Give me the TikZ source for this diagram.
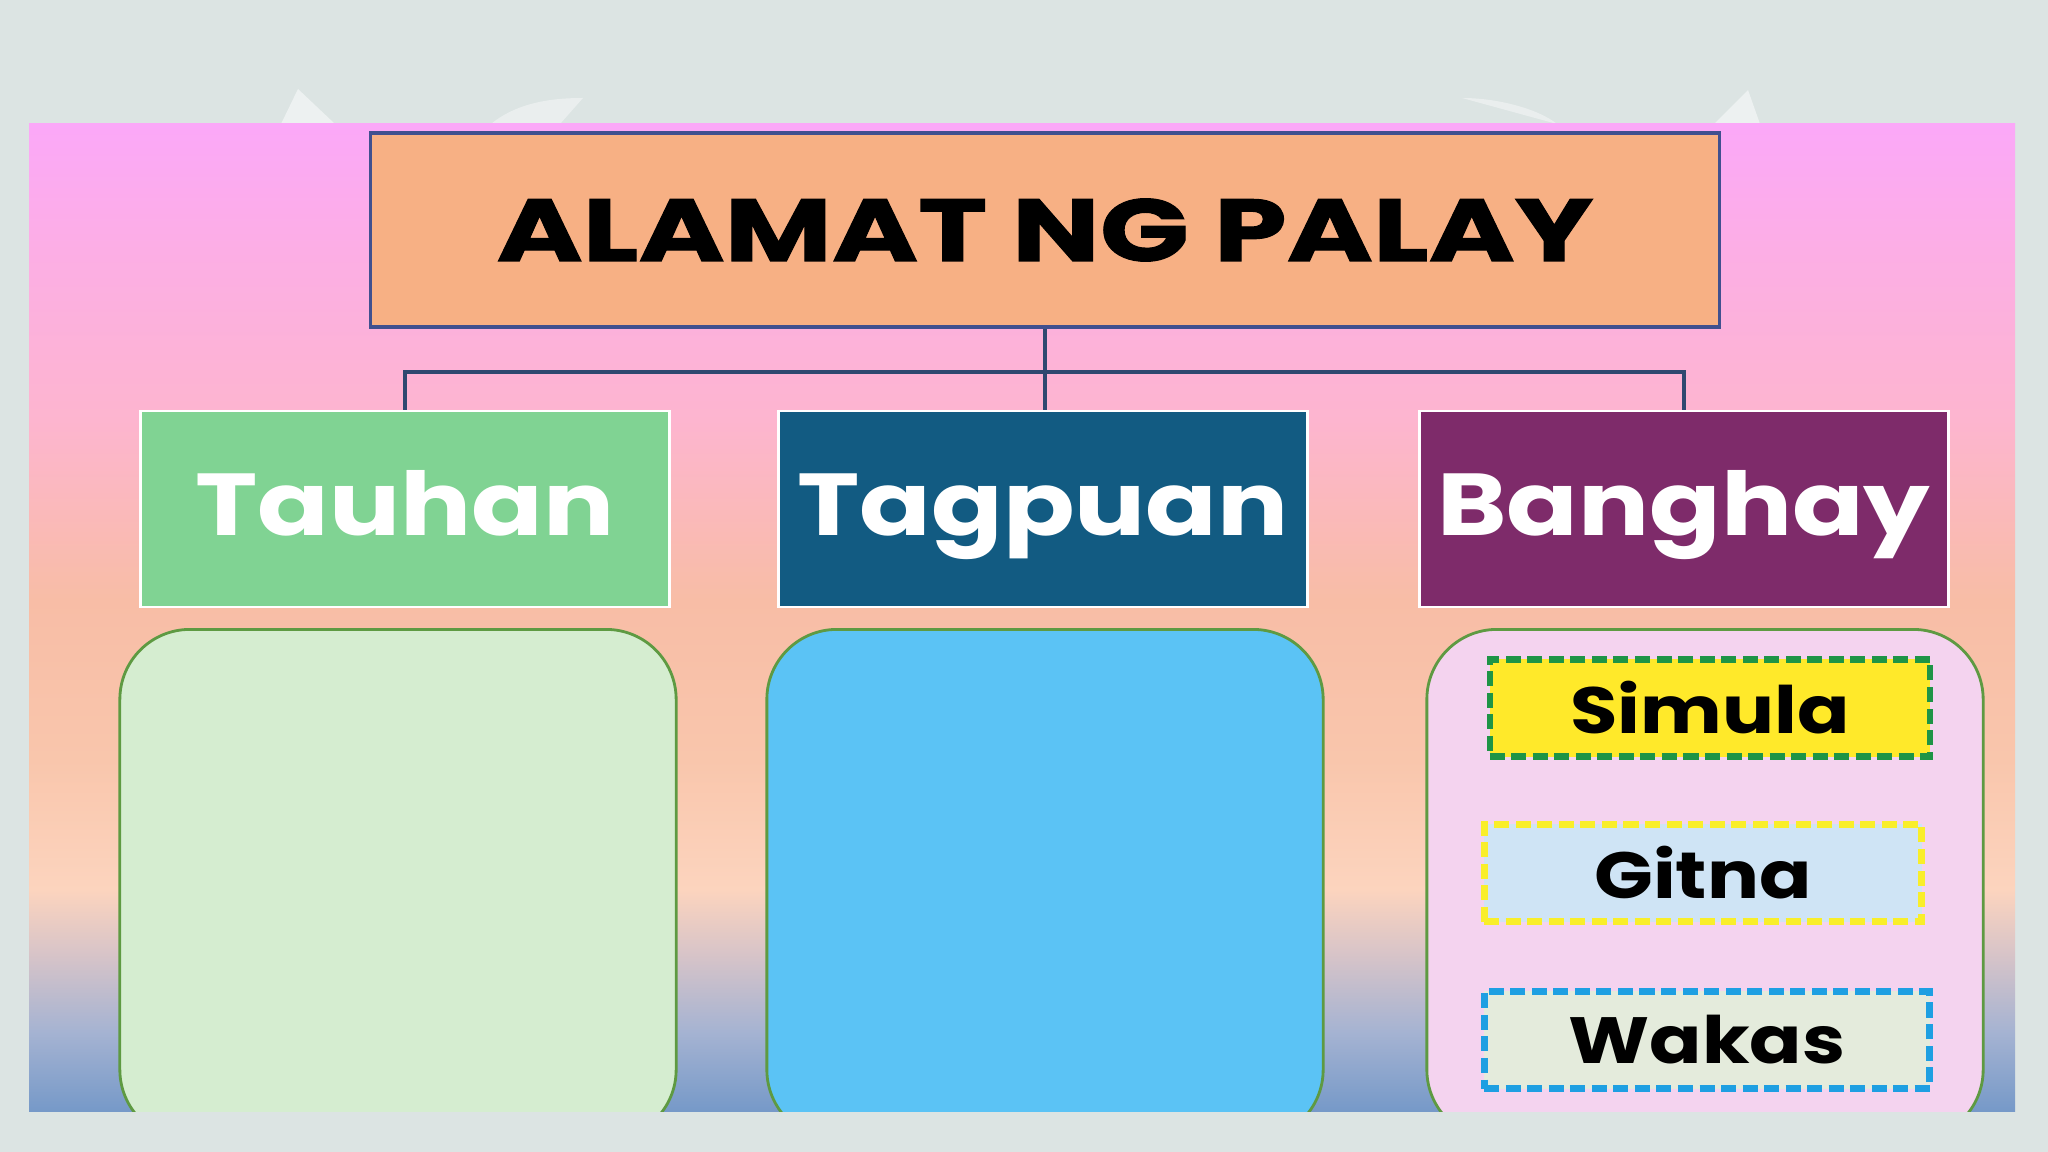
\documentclass[tikz,border=0pt]{standalone}
\usepackage{fontspec}
\setmainfont{Poppins}
\newfontfamily\titlefont{Poppins}[FakeStretch=1.33,FakeBold=1.2]
\newfontfamily\catfont{Poppins}[FakeStretch=1.2]
\newfontfamily\partfont{Poppins}[FakeStretch=1.18]
\usetikzlibrary{positioning}
\definecolor{bggrey}{HTML}{DCE4E3}
\definecolor{titlefill}{HTML}{F7B084}
\definecolor{titleline}{HTML}{40508F}
\definecolor{connline}{HTML}{2F4870}
\definecolor{tauhanfill}{HTML}{80D393}
\definecolor{tagpuanfill}{HTML}{125B82}
\definecolor{banghayfill}{HTML}{7E2B6A}
\definecolor{boxline}{HTML}{5E9A42}
\definecolor{greenbox}{HTML}{D5EDD0}
\definecolor{bluebox}{HTML}{5BC3F5}
\definecolor{pinkbox}{HTML}{F4D3EF}
\definecolor{simulafill}{HTML}{FFE92A}
\definecolor{simulaline}{HTML}{1E9446}
\definecolor{gitnafill}{HTML}{CFE4F5}
\definecolor{gitnaline}{HTML}{F9EE2A}
\definecolor{wakasfill}{HTML}{E4EBDC}
\definecolor{wakasline}{HTML}{1E9FE2}
\definecolor{panela}{HTML}{7699C8}
\definecolor{panelb}{HTML}{A5B3D2}
\definecolor{panelc}{HTML}{D8C4C8}
\definecolor{paneld}{HTML}{FCD4BE}
\definecolor{panele}{HTML}{F9C6AC}
\definecolor{panelf}{HTML}{F8BDA6}
\definecolor{panelg}{HTML}{FDB5CF}
\definecolor{panelh}{HTML}{FCAEE5}
\definecolor{paneli}{HTML}{FBA8F8}
\pgfdeclareverticalshading{panelshade}{100bp}{%
  color(0bp)=(panela); color(25bp)=(panela);
  color(29bp)=(panelb); color(33bp)=(panelc);
  color(36.2bp)=(paneld); color(42.8bp)=(panele);
  color(50.9bp)=(panelf); color(60bp)=(panelg);
  color(68.6bp)=(panelh); color(75bp)=(paneli);
  color(100bp)=(paneli)}

\begin{document}
\begin{tikzpicture}[x=0.01cm,y=-0.01cm,
  titlebox/.style={draw=titleline,fill=titlefill,line width=0.9pt,minimum width=13.49cm,minimum height=1.94cm,inner sep=0pt,font=\titlefont\bfseries\fontsize{25}{28}\selectfont},
  catbox/.style={draw=white,line width=0.8pt,minimum width=5.28cm,minimum height=1.96cm,inner sep=0pt,text height=0.7cm,text depth=0.18cm,text=white,font=\catfont\bfseries\fontsize{25}{28}\selectfont},
  roundbox/.style={draw=boxline,line width=0.8pt,rounded corners=0.7cm,minimum width=5.56cm,minimum height=5.1cm,inner sep=0pt},
  partbox/.style={line width=1.8pt,dash pattern=on 0.15cm off 0.065cm,minimum height=0.97cm,inner sep=0pt,font=\partfont\bfseries\fontsize{18.6}{22}\selectfont},
  conn/.style={draw=connline,line width=0.9pt}]
\useasboundingbox (0,0) rectangle (2048,1152);
\fill[bggrey] (0,0) rectangle (2048,1152);
\fill[white,opacity=.5] (281,124) -- (298,89) -- (335,124) -- cycle;
\fill[white,opacity=.4] (491,124) .. controls (520,100) and (560,98) .. (583,98) -- (560,124) -- cycle;
\fill[white,opacity=.4] (1462,98) .. controls (1500,98) and (1540,110) .. (1557,124) -- cycle;
\fill[white,opacity=.5] (1714,124) -- (1748,90) -- (1760,124) -- cycle;
\shade[shading=panelshade] (29,124) rectangle (2015,1111);

\node[titlebox] (title) at (1045,230) {ALAMAT NG PALAY};

\node[catbox,fill=tauhanfill] (tauhan) at (405,509) {Tauhan};
\node[catbox,fill=tagpuanfill] (tagpuan) at (1043,509) {Tagpuan};
\node[catbox,fill=banghayfill] (banghay) at (1684,509) {Banghay};

\coordinate (bar) at (1045,372);
\draw[conn] (title.south) -- (title.south |- tagpuan.north);
\draw[conn] (tauhan.north) |- (bar) -| (banghay.north);

\begin{scope}
\clip (29,124) rectangle (2015,1111);
\node[roundbox,fill=greenbox,anchor=north] (tauhanbox) at (398,628) {};
\node[roundbox,fill=bluebox,anchor=north] (tagpuanbox) at (1045,628) {};
\node[roundbox,fill=pinkbox,anchor=north] (banghaybox) at (1705,628) {};
\end{scope}

\node[partbox,draw=simulaline,fill=simulafill,minimum width=4.4cm] (simula) at (1710,708) {Simula};
\node[partbox,draw=gitnaline,fill=gitnafill,minimum width=4.37cm] (gitna) at (1703,873) {Gitna};
\node[partbox,draw=wakasline,fill=wakasfill,minimum width=4.45cm] (wakas) at (1707,1040) {Wakas};
\end{tikzpicture}
\end{document}
